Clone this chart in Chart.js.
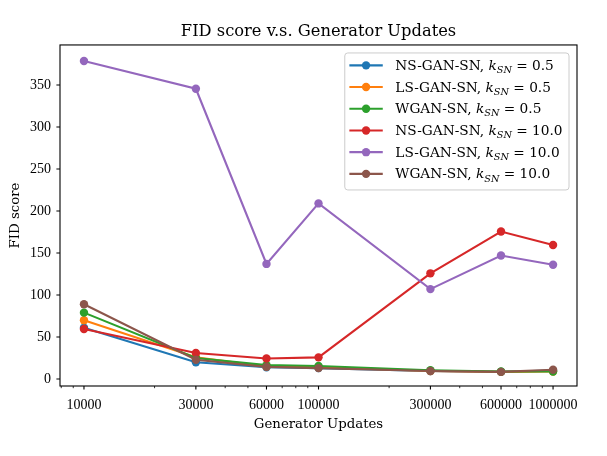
<!DOCTYPE html>
<html><head><meta charset="utf-8">
<script src="https://cdn.jsdelivr.net/npm/chart.js@4.4.1/dist/chart.umd.min.js"></script>
<style>html,body{margin:0;padding:0;background:#fff;}#wrap{width:607px;height:456px;position:relative;}</style>
</head><body><div id="wrap"><canvas id="c" width="607" height="456"></canvas></div>
<script>
// ---- data ----
const updates = [10000, 30000, 60000, 100000, 300000, 600000, 1000000];
const majorTicks = [10000, 30000, 60000, 100000, 300000, 600000, 1000000];
const majorTickLabels = ['10000', '30000', '60000', '100000', '300000', '600000', '1000000'];
const minorTicks = [8000, 9000, 20000, 40000, 50000, 70000, 80000, 90000, 200000, 400000, 500000, 700000, 800000, 900000];
const yTicks = [0, 50, 100, 150, 200, 250, 300, 350];
const seriesNames = ['NS-GAN-SN', 'LS-GAN-SN', 'WGAN-SN', 'NS-GAN-SN', 'LS-GAN-SN', 'WGAN-SN'];
const kSN = ['0.5', '0.5', '0.5', '10.0', '10.0', '10.0'];
const nsGan05 = [61, 20, 14, 13, 9.5, 8.5, 10];
const lsGan05 = [70, 26, 15, 14, 9.5, 8.5, 9];
const wgan05  = [79, 25, 16.5, 15.5, 10.5, 9, 9];
const nsGan10 = [59.5, 31, 24.5, 25.8, 125.8, 175.5, 159.5];
const lsGan10 = [378.5, 345.5, 137, 209, 107, 147, 136];
const wgan10  = [89, 23, 14.5, 13, 9.5, 8.5, 11];
const seriesValues = [nsGan05, lsGan05, wgan05, nsGan10, lsGan10, wgan10];
const colors = ['#1f77b4', '#ff7f0e', '#2ca02c', '#d62728', '#9467bd', '#8c564b'];

const SERIF = '"DejaVu Serif"';
const NUMFONT = '"Liberation Serif"';

const datasets = seriesValues.map((vals, i) => ({
  label: seriesNames[i] + ', k_SN = ' + kSN[i],
  data: updates.map((u, j) => ({x: u, y: vals[j]})),
  borderColor: colors[i],
  backgroundColor: colors[i],
  pointBackgroundColor: colors[i],
  pointBorderColor: colors[i],
  pointBorderWidth: 0,
  pointRadius: 4.2,
  pointHoverRadius: 4.2,
  borderWidth: 2.1,
  tension: 0,
  fill: false,
  order: seriesValues.length - i
}));

const framePlugin = {
  id: 'frameTicks',
  afterDraw(chart) {
    const ctx = chart.ctx, ca = chart.chartArea;
    const xs = chart.scales.x, ys = chart.scales.y;
    ctx.save();
    ctx.strokeStyle = '#000';
    ctx.lineWidth = 1.1;
    ctx.beginPath();
    majorTicks.forEach(v => { const p = xs.getPixelForValue(v); ctx.moveTo(p, ca.bottom); ctx.lineTo(p, ca.bottom + 3.6); });
    yTicks.forEach(v => { const p = ys.getPixelForValue(v); ctx.moveTo(ca.left, p); ctx.lineTo(ca.left - 3.6, p); });
    ctx.stroke();
    ctx.lineWidth = 0.8;
    ctx.beginPath();
    minorTicks.forEach(v => { const p = xs.getPixelForValue(v); ctx.moveTo(p, ca.bottom); ctx.lineTo(p, ca.bottom + 2.2); });
    ctx.stroke();
    ctx.lineWidth = 1.1;
    ctx.strokeRect(ca.left, ca.top, ca.right - ca.left, ca.bottom - ca.top);
    ctx.restore();
  }
};

const legendPlugin = {
  id: 'mplLegend',
  afterDraw(chart) {
    const ctx = chart.ctx, ca = chart.chartArea;
    const fs = 13.7, subfs = 9.7;
    const fN = fs + 'px ' + SERIF, fI = 'italic ' + fs + 'px ' + SERIF, fS = 'italic ' + subfs + 'px ' + SERIF;
    const rows = chart.data.datasets.map((ds, i) => [
      {t: seriesNames[i] + ', ', f: fN, dy: 0},
      {t: 'k', f: fI, dy: 0},
      {t: 'SN', f: fS, dy: 3.2},
      {t: ' = ' + kSN[i], f: fN, dy: 0}
    ]);
    ctx.save();
    let maxW = 0;
    rows.forEach(r => { let w = 0; r.forEach(p => { ctx.font = p.f; w += ctx.measureText(p.t).width; }); maxW = Math.max(maxW, w); });
    const boxW = 50.6 + maxW + 6.5, boxH = 137;
    const right = ca.right - 8, top = ca.top + 8, left = right - boxW;
    ctx.beginPath();
    if (ctx.roundRect) ctx.roundRect(left, top, boxW, boxH, 3); else ctx.rect(left, top, boxW, boxH);
    ctx.fillStyle = 'rgba(255,255,255,0.8)';
    ctx.fill();
    ctx.strokeStyle = '#cccccc';
    ctx.lineWidth = 1;
    ctx.stroke();
    rows.forEach((r, i) => {
      const y = top + 12.4 + i * 21.7;
      const c = colors[i];
      ctx.strokeStyle = c; ctx.lineWidth = 2.1;
      ctx.beginPath(); ctx.moveTo(left + 4.6, y); ctx.lineTo(left + 38, y); ctx.stroke();
      ctx.fillStyle = c;
      ctx.beginPath(); ctx.arc(left + 21.3, y, 4.2, 0, Math.PI * 2); ctx.fill();
      ctx.fillStyle = '#000';
      ctx.textBaseline = 'alphabetic';
      ctx.textAlign = 'left';
      let x = left + 50.6;
      r.forEach(p => { ctx.font = p.f; ctx.fillText(p.t, x, y + 4.5 + p.dy); x += ctx.measureText(p.t).width; });
    });
    ctx.restore();
  }
};

new Chart(document.getElementById('c'), {
  type: 'line',
  data: {datasets},
  options: {
    responsive: false,
    animation: false,
    events: [],
    layout: {padding: {left: 0, right: 30, top: 0, bottom: 0}},
    plugins: {
      legend: {display: false},
      tooltip: {enabled: false},
      title: {
        display: true,
        text: 'FID score v.s. Generator Updates',
        fullSize: false,
        color: '#000',
        font: {family: SERIF, size: 16.3, weight: 'normal', lineHeight: 1.2},
        padding: {top: 21.8, bottom: 3.6}
      }
    },
    scales: {
      x: {
        type: 'logarithmic',
        min: 7903,
        max: 1265000,
        afterBuildTicks(scale) {
          scale.ticks = majorTicks.map(v => ({value: v, major: true}))
            .concat(minorTicks.map(v => ({value: v, major: false})))
            .sort((a, b) => a.value - b.value);
        },
        afterFit(scale) { scale.height = 70; },
        ticks: {
          autoSkip: false, maxRotation: 0, minRotation: 0, padding: 7,
          color: '#000',
          font: {family: NUMFONT, size: 14},
          callback(val) { const k = majorTicks.indexOf(val); return k >= 0 ? majorTickLabels[k] : ''; }
        },
        grid: {display: true, drawOnChartArea: false, drawTicks: true, tickLength: 4, color: 'rgba(0,0,0,0)'},
        border: {display: false},
        title: {display: true, text: 'Generator Updates', color: '#000',
          font: {family: SERIF, size: 13.3, lineHeight: 1.2}, padding: {top: 0, bottom: 23}}
      },
      y: {
        type: 'linear',
        min: -8.3,
        max: 397.6,
        afterBuildTicks(scale) { scale.ticks = yTicks.map(v => ({value: v})); },
        afterFit(scale) { scale.width = 60; },
        ticks: {color: '#000', padding: 5, font: {family: NUMFONT, size: 14}, callback(v) { return String(v); }},
        grid: {display: true, drawOnChartArea: false, drawTicks: true, tickLength: 4, color: 'rgba(0,0,0,0)'},
        border: {display: false},
        title: {display: true, text: 'FID score', color: '#000',
          font: {family: SERIF, size: 13.3, lineHeight: 1.2}, padding: {top: 8, bottom: 0}}
      }
    }
  },
  plugins: [framePlugin, legendPlugin]
});
</script>
</body></html>
